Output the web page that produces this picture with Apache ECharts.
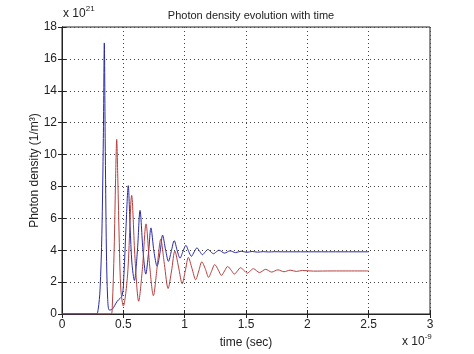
<!DOCTYPE html>
<html>
<head>
<meta charset="utf-8">
<script src="https://cdn.jsdelivr.net/npm/echarts@6/dist/echarts.min.js"></script>
<style>
  html, body { margin: 0; padding: 0; background: #fff; }
  #chart { width: 474px; height: 354px; }
</style>
</head>
<body>
<div id="chart"></div>
<script>
// time in units of 1e-9 s, photon density in units of 1e21 m^-3
const blueTime = [0, 0.28, 0.295, 0.31, 0.325, 0.337, 0.345, 0.352, 0.362, 0.372, 0.385, 0.41, 0.45, 0.49,
  0.505, 0.522, 0.54, 0.555, 0.57, 0.59, 0.615, 0.636, 0.66, 0.683, 0.705, 0.725, 0.75, 0.775,
  0.8, 0.82, 0.845, 0.868, 0.89, 0.915, 0.94, 0.962, 0.985, 1.01, 1.033, 1.055, 1.078, 1.1,
  1.123, 1.145, 1.168, 1.19, 1.213, 1.235, 1.258, 1.28, 1.325, 1.37, 1.415, 1.46, 1.505,
  1.55, 1.595, 1.64, 1.685, 1.73, 1.8, 2.5];
const blueDensity = [0, 0, 0.3, 1.5, 5, 11, 17, 11, 4, 1, 0.25, 0.3, 0.8, 1.15,
  2.5, 5.5, 8.05, 5.5, 3.2, 2.1, 4, 6.5, 4, 2.5, 3.8, 5.4, 3.9, 3.0,
  3.9, 4.95, 4.0, 3.3, 3.9, 4.6, 3.95, 3.5, 3.9, 4.3, 3.92, 3.62, 3.9, 4.15,
  3.92, 3.72, 3.9, 4.05, 3.9, 3.78, 3.9, 4.0, 3.82, 3.96, 3.85, 3.94, 3.87,
  3.92, 3.88, 3.91, 3.89, 3.905, 3.9, 3.9];

const redTime = [0, 0.4, 0.41, 0.425, 0.437, 0.446, 0.455, 0.467, 0.48, 0.5, 0.535, 0.568, 0.595,
  0.625, 0.655, 0.685, 0.715, 0.745, 0.775, 0.805, 0.835, 0.865, 0.893, 0.92, 0.95, 0.98,
  1.005, 1.03, 1.06, 1.09, 1.115, 1.14, 1.17, 1.195, 1.22, 1.245, 1.275, 1.3, 1.325, 1.35,
  1.38, 1.405, 1.43, 1.455, 1.485, 1.51, 1.535, 1.56, 1.61, 1.66, 1.71, 1.76, 1.81, 1.86,
  1.91, 1.96, 2.05, 2.2, 2.5];
const redDensity = [0, 0, 0.5, 4, 8.5, 10.95, 8.5, 4.5, 1.5, 0.5, 2.5, 7.44, 3.5,
  0.8, 2.8, 5.65, 3, 1.15, 2.9, 4.69, 3.1, 1.6, 2.7, 3.95, 2.95, 1.9,
  2.7, 3.55, 2.85, 2.15, 2.7, 3.27, 2.8, 2.3, 2.7, 3.1, 2.75, 2.42, 2.7, 2.98,
  2.74, 2.5, 2.7, 2.9, 2.72, 2.56, 2.7, 2.84, 2.6, 2.8, 2.63, 2.77, 2.65, 2.75,
  2.67, 2.73, 2.69, 2.7, 2.7];

const xTicks = { min: 0, max: 3, step: 0.5 };
const yTicks = { min: 0, max: 18, step: 2 };

const chart = echarts.init(document.getElementById('chart'));
const font = 'Liberation Sans, Arial, sans-serif';
const dotted = { show: true, lineStyle: { color: '#444', type: [1, 3], width: 1 } };

chart.setOption({
  backgroundColor: '#fff',
  animation: false,
  title: {
    text: 'Photon density evolution with time',
    left: 246, top: 5, textAlign: 'center',
    textStyle: { fontFamily: font, fontSize: 11, fontWeight: 'normal', color: '#222' }
  },
  grid: { left: 62, right: 44, top: 27, bottom: 39, show: true, borderColor: '#222', borderWidth: 1 },
  xAxis: [{
    type: 'value', min: xTicks.min, max: xTicks.max, interval: xTicks.step,
    name: 'time (sec)', nameLocation: 'middle', nameGap: 23, nameMoveOverlap: false,
    nameTextStyle: { fontFamily: font, fontSize: 12, color: '#222' },
    axisLine: { lineStyle: { color: '#222' } },
    axisTick: { inside: true, length: 4, lineStyle: { color: '#222' } },
    axisLabel: { fontFamily: font, fontSize: 12, color: '#222', margin: 5 },
    splitLine: dotted
  }, {
    type: 'value', position: 'top', min: xTicks.min, max: xTicks.max, interval: xTicks.step,
    axisLine: { lineStyle: { color: '#222' } },
    axisTick: { inside: true, length: 4, lineStyle: { color: '#222' } },
    axisLabel: { show: false }, splitLine: { show: false }
  }],
  yAxis: [{
    type: 'value', min: yTicks.min, max: yTicks.max, interval: yTicks.step,
    name: 'Photon density (1/m³)', nameLocation: 'middle', nameGap: 21, nameMoveOverlap: false,
    nameTextStyle: { fontFamily: font, fontSize: 12, color: '#222' },
    axisLine: { lineStyle: { color: '#222' } },
    axisTick: { inside: true, length: 4, lineStyle: { color: '#222' } },
    axisLabel: { fontFamily: font, fontSize: 12, color: '#222', margin: 5 },
    splitLine: dotted
  }, {
    type: 'value', position: 'right', min: yTicks.min, max: yTicks.max, interval: yTicks.step,
    axisLine: { show: true, lineStyle: { color: '#222' } },
    axisTick: { show: true, inside: true, length: 4, lineStyle: { color: '#222' } },
    axisLabel: { show: false }, splitLine: { show: false }
  }],
  graphic: [{
    type: 'text', left: 63, top: 5,
    style: {
      text: '{a|x 10}{s|21}',
      rich: {
        a: { fontFamily: font, fontSize: 12, fill: '#222', padding: [4, 0, 0, 0] },
        s: { fontFamily: font, fontSize: 8, fill: '#222', padding: [0, 0, 6, 0] }
      }
    }
  }, {
    type: 'text', left: 402, top: 333,
    style: {
      text: '{a|x 10}{s|-9}',
      rich: {
        a: { fontFamily: font, fontSize: 12, fill: '#222', padding: [4, 0, 0, 0] },
        s: { fontFamily: font, fontSize: 8, fill: '#222', padding: [0, 0, 6, 0] }
      }
    }
  }],
  series: [{
    type: 'line',
    data: blueTime.map((t, i) => [t, blueDensity[i]]),
    showSymbol: false, smooth: 0.3,
    lineStyle: { color: '#2a2aa6', width: 1 }
  }, {
    type: 'line',
    data: redTime.map((t, i) => [t, redDensity[i]]),
    showSymbol: false, smooth: 0.3,
    lineStyle: { color: '#b5403f', width: 1 }
  }]
});
</script>
</body>
</html>
